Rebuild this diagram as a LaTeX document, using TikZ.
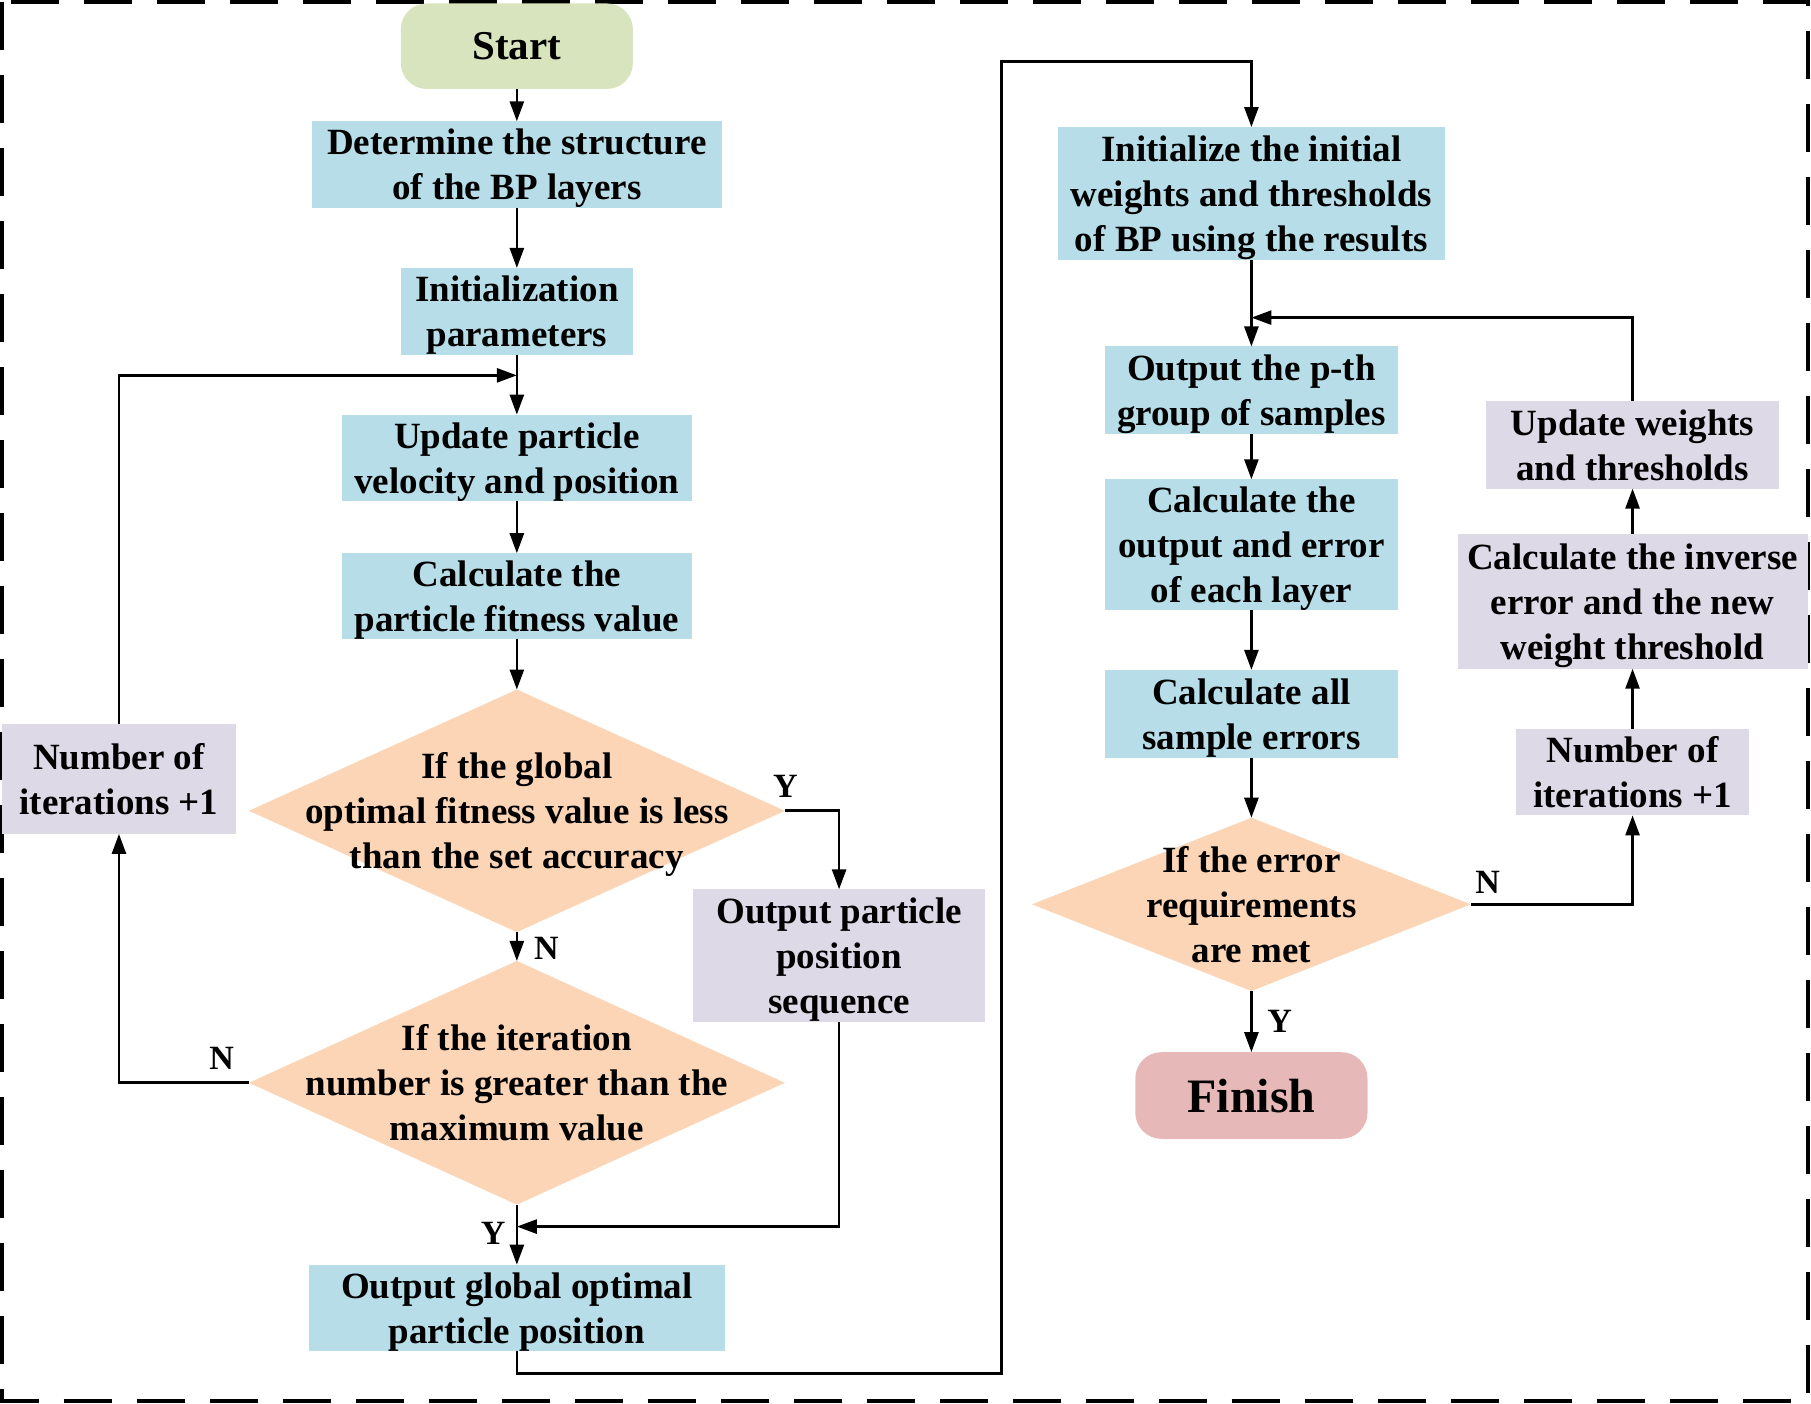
\documentclass[tikz,border=0pt]{standalone}
\usepackage{fontspec}
\setmainfont{Liberation Serif}
\usetikzlibrary{shapes.geometric,arrows.meta,calc}
\definecolor{blueC}{HTML}{B7DEE8}
\definecolor{purpC}{HTML}{DDD9E6}
\definecolor{orgC}{HTML}{FBD5B5}
\definecolor{grnC}{HTML}{D7E4BD}
\definecolor{pinkC}{HTML}{E6B9B8}
\tikzset{
 base/.style={font=\bfseries\fontsize{18.5}{22.5}\selectfont, align=center, inner sep=0pt, outer sep=0pt, text depth=0pt},
 sz/.style 2 args={minimum width=#1*0.5775pt, minimum height=#2*0.5775pt},
 bluebox/.style={base, fill=blueC},
 purbox/.style={base, fill=purpC},
 dia/.style={shape=diamond, fill=orgC, inner sep=0pt, outer sep=0pt},
 lbl/.style={font=\bfseries\fontsize{17}{20}\selectfont, inner sep=0pt},
 arr/.style={line width=1.3pt, -{Triangle[length=10pt,width=7pt]}},
}
\begin{document}
\begin{tikzpicture}[x=0.5775pt,y=-0.5775pt]
\useasboundingbox (0,0) rectangle (1568,1215);
\draw[line width=2pt, dash pattern=on 24pt off 12.5pt] (2,2) rectangle (1565,1213);

% left column
\node[base, sz={201}{74}, fill=grnC, rounded corners=13pt, font=\bfseries\fontsize{20.5}{24}\selectfont] (start) at (447.5,40) {Start};
\node[bluebox, sz={355}{75}] (det) at (447.5,142.5) {Determine the structure\\of the BP layers};
\node[bluebox, sz={201}{75}] (init) at (447.5,269.5) {Initialization\\parameters};
\node[bluebox, sz={303}{75}] (upd) at (447.5,396.5) {Update particle\\velocity and position};
\node[bluebox, sz={303}{74}] (calcfit) at (447.5,516) {Calculate the\\particle fitness value};
\node[dia, sz={464}{210}] (d1) at (447.5,702) {};
\node[base] (d1t) at (d1.center) {If the global\\optimal fitness value is less\\than the set accuracy};
\node[dia, sz={464}{211}] (d2) at (447.5,937.5) {};
\node[base] (d2t) at (d2.center) {If the iteration\\number is greater than the\\maximum value};
\node[purbox, sz={202}{95}] (numL) at (103,674.5) {Number of\\iterations +1};
\node[purbox, sz={253}{115}] (outSeq) at (726.5,827.5) {Output particle\\position\\sequence};
\node[bluebox, sz={360}{75}] (outGlob) at (447.5,1132.5) {Output global optimal\\particle position};

% right part
\node[bluebox, sz={335}{115}] (initW) at (1083.5,167.5) {Initialize the initial\\weights and thresholds\\of BP using the results};
\node[bluebox, sz={253}{76}] (pth) at (1083.5,338) {Output the p-th\\group of samples};
\node[bluebox, sz={253}{113}] (calcOut) at (1083.5,471.5) {Calculate the\\output and error\\of each layer};
\node[bluebox, sz={253}{76}] (calcAll) at (1083.5,618) {Calculate all\\sample errors};
\node[dia, sz={380}{150}] (d3) at (1083.5,783) {};
\node[base] (d3t) at (d3.center) {If the error\\requirements\\are met};
\node[base, sz={201}{75}, fill=pinkC, rounded corners=13pt, font=\bfseries\fontsize{24}{28}\selectfont] (finish) at (1083.5,948.5) {Finish};
\node[purbox, sz={201}{75}] (numR) at (1413.5,668.5) {Number of\\iterations +1};
\node[purbox, sz={303}{117}] (inv) at (1413.5,520.5) {Calculate the inverse\\error and the new\\weight threshold};
\node[purbox, sz={253}{76}] (updW) at (1413.5,385) {Update weights\\and thresholds};

% coordinates
\coordinate (m1) at (447.5,325);
\coordinate (m2) at (447.5,1062);
\coordinate (c1) at (867,1189);
\coordinate (c2) at (867,53);
\coordinate (m3) at (1083.5,275);

% connectors left
\draw[arr] (start) -- (det);
\draw[arr] (det) -- (init);
\draw[arr] (init) -- (upd);
\draw[arr] (numL.north) |- (m1);
\draw[arr] (upd) -- (calcfit);
\draw[arr] (calcfit) -- (d1.north);
\draw[arr] (d1.south) -- (d2.north);
\draw[arr] (d2.south) -- (outGlob.north);
\draw[arr] (d1.east) -| (outSeq.north);
\draw[arr] (outSeq.south) |- (m2);
\draw[arr] (d2.west) -| (numL.south);
\draw[arr] (outGlob.south) |- (c1) -- (c2) -| (initW.north);

% connectors right
\draw[arr] (initW) -- (pth);
\draw[arr] (updW.north) |- (m3);
\draw[arr] (pth) -- (calcOut);
\draw[arr] (calcOut) -- (calcAll);
\draw[arr] (calcAll) -- (d3.north);
\draw[arr] (d3.south) -- (finish);
\draw[arr] (d3.east) -| (numR.south);
\draw[arr] (numR) -- (inv);
\draw[arr] (inv) -- (updW);

% labels
\node[lbl] (ly1) at (680,681) {Y};
\node[lbl] (ln1) at (473,821) {N};
\node[lbl] (ln2) at (192,916) {N};
\node[lbl] (ly2) at (427,1068) {Y};
\node[lbl] (ln3) at (1288,764) {N};
\node[lbl] (ly3) at (1108,884) {Y};
\end{tikzpicture}
\end{document}
